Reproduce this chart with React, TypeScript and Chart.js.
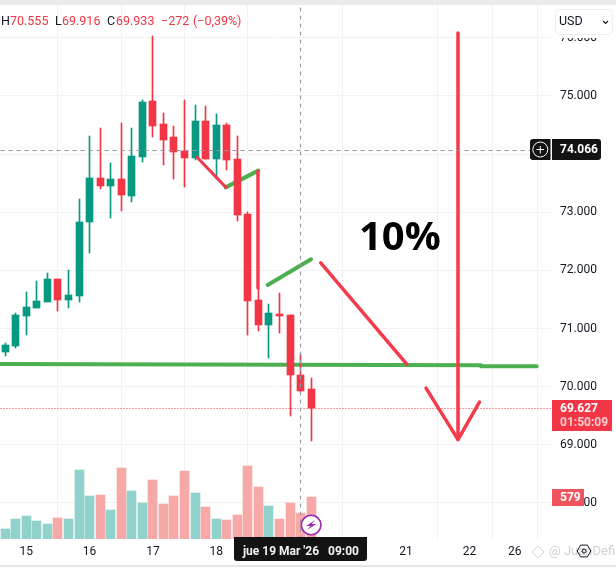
import React, { useEffect, useRef } from "react";
import { Chart, registerables } from "chart.js";

Chart.register(...registerables);

const FONT = "Roboto, 'Noto Sans', sans-serif";
const UP = "#089981";
const DOWN = "#f23645";
const INK = "#131722";

// candle index (four-hour bars, six per day; 0 = day 15)
const candleIndex = [-2,-1,0,1,2,3,4,5,6,7,8,9,10,11,12,13,14,15,16,17,18,19,20,21,22,23,24,25,26,27];
const opens = [70.591,70.695,71.212,71.350,71.454,71.851,71.488,71.557,72.834,73.594,73.456,73.576,73.283,73.956,74.905,74.508,74.284,74.060,73.939,74.560,73.921,74.491,73.921,72.972,71.488,71.057,71.247,71.230,70.205,69.952];
const highs = [70.746,71.264,71.626,71.816,71.954,71.851,72.006,73.231,74.318,74.439,73.852,74.525,74.439,74.922,76.027,74.698,74.474,74.922,74.836,74.819,74.681,74.525,74.318,73.007,71.695,71.419,71.609,71.230,70.555,70.143];
const lows = [70.522,70.660,70.884,71.350,71.454,71.299,71.350,71.454,72.299,73.404,72.903,73.024,73.179,73.870,74.301,73.818,73.576,73.438,73.904,73.921,73.576,73.732,72.852,70.884,70.953,70.487,70.919,69.504,69.916,69.073];
const closes = [70.712,71.230,71.368,71.471,71.851,71.488,71.575,72.834,73.594,73.456,73.576,73.300,73.973,74.888,74.474,74.249,74.042,73.939,74.560,73.921,74.491,73.904,72.955,71.471,71.057,71.264,71.212,70.194,69.933,69.627];
const volumes = [134,273,315,245,204,287,273,954,593,607,398,982,662,495,815,482,593,940,634,440,273,259,329,1009,718,454,273,495,357,579];

const priceTicks = [68,69,70,71,72,73,74,75,76];
const dayTickIndex = [0,6,12,18,24,36,42,46.3];
const dayTickLabels = ["15","16","17","18","","21","22","26"];

// hand-drawn strokes as [candle index, price]
const greenSupport = [[-2.49,70.389],[43.10,70.367],[43.10,70.349],[48.38,70.349]];
const greenBounceOne = [[18.90,73.426],[21.99,73.714]];
const greenBounceTwo = [[22.88,71.747],[26.99,72.191]];
const redDropOne = [[16.18,73.944],[18.93,73.426]];
const redDropTwo = [[21.96,73.702],[21.96,71.695]];
const redDropThree = [[27.91,72.127],[36.06,70.389]];
const redArrowShaft = [[40.92,76.079],[40.92,69.090]];
const redArrowHead = [[37.89,69.975],[40.92,69.090],[42.95,69.735]];

const lastPrice = 69.627;
const crosshairPrice = 74.066;
const crosshairIndex = 26;
const lastVolume = 579;
const annotationLabel = "10%";
const headerParts = [
  ["H", 1, INK],["70.555", 10, DOWN],["L", 55, INK],["69.916", 62, DOWN],
  ["C", 107, INK],["69.933", 116, DOWN],["−272", 161, DOWN],["(−0,39%)", 193, DOWN],
];
const dateLabel = "jue 19 Mar '26";
const timeLabel = "09:00";
const countdown = "01:50:09";
const currency = "USD";
const watermark = "@ JuanDefi";

const X_MIN = -2.493, X_MAX = 49.735, Y_MIN = 67.381, Y_MAX = 76.562, VOL_MAX = 7395;

const pts = (a: number[][]) => a.map(([x, y]) => ({ x, y }));
const stroke = (a: number[][], color: string, width: number, order: number) => ({
  type: "line" as const, data: pts(a), borderColor: color, borderWidth: width,
  pointRadius: 0, tension: 0, order, borderCapStyle: "round" as const, borderJoinStyle: "round" as const,
});
const dashed = (a: number[][], color: string, dash: number[], order: number) => ({
  type: "line" as const, data: pts(a), borderColor: color, borderWidth: 1,
  borderDash: dash, pointRadius: 0, tension: 0, order,
});
const dirColor = (i: number, up: string, down: string) => (closes[i] >= opens[i] ? up : down);

const snapBars = {
  id: "snapBars",
  afterDatasetsUpdate(chart: any) {
    chart.data.datasets.forEach((ds: any, d: number) => {
      const meta = chart.getDatasetMeta(d);
      if (meta.type === "line" && ds.borderWidth === 1) {
        meta.data.forEach((el: any) => {
          el.x = Math.floor(el.x) + 0.5;
          el.y = Math.floor(el.y) + 0.5;
        });
      }
      if (meta.type !== "bar") return;
      meta.data.forEach((el: any) => {
        el.x = Math.floor(el.x) + 0.5;
        el.y = Math.round(el.y);
        el.base = Math.round(el.base);
        if (Math.abs(el.y - el.base) < 1) el.base = el.y + 1;
      });
    });
  },
};

const background = {
  id: "background",
  beforeDraw(chart: any) {
    const c = chart.ctx;
    c.save();
    c.fillStyle = "#fff";
    c.fillRect(0, 0, chart.width, chart.height);
    c.restore();
  },
};

function box(c: any, x: number, y: number, w: number, h: number, r: any, fill: string) {
  c.beginPath();
  c.roundRect(x, y, w, h, r);
  c.fillStyle = fill;
  c.fill();
}
function label(c: any, s: string, x: number, y: number, font: string, color: string, align = "left") {
  c.font = font;
  c.fillStyle = color;
  c.textAlign = align;
  c.textBaseline = "middle";
  c.fillText(s, x, y);
}

const overlay = {
  id: "overlay",
  afterDraw(chart: any) {
    const c = chart.ctx;
    const yS = chart.scales.y, xS = chart.scales.x, vS = chart.scales.vol;
    c.save();

    // window strips
    c.fillStyle = "#ebebeb";
    c.fillRect(0, 0, 616, 5);
    c.fillStyle = "#e6e6e6";
    c.fillRect(0, 565, 616, 2);

    // legend line
    headerParts.forEach(([s, x, col]) => label(c, s as string, x as number, 22, `12.5px ${FONT}`, col as string));

    // annotation text
    c.font = `bold 40px 'Open Sans', sans-serif`;
    c.fillStyle = "#000";
    c.textAlign = "left";
    c.textBaseline = "alphabetic";
    c.fillText(annotationLabel, 359, 250);

    // currency selector, with its soft white margin hiding most of the top tick label
    c.fillStyle = "#fff";
    c.fillRect(553, 30, 62, 8);
    c.beginPath();
    c.roundRect(555.5, 9.5, 57, 25, 4);
    c.fillStyle = "#fff";
    c.fill();
    c.strokeStyle = "#eeeeee";
    c.lineWidth = 1;
    c.stroke();
    label(c, currency, 559, 22, `12.5px ${FONT}`, INK);
    c.beginPath();
    c.moveTo(603, 21);
    c.lineTo(605.5, 23.5);
    c.lineTo(608, 21);
    c.strokeStyle = INK;
    c.lineWidth = 1.2;
    c.stroke();

    // crosshair price tag
    const yc = Math.round(yS.getPixelForValue(crosshairPrice));
    box(c, 530, yc - 11, 20.5, 21, [3, 0, 0, 3], "#131313");
    box(c, 552, yc - 11, 49, 21, [0, 3, 3, 0], "#131313");
    c.beginPath();
    c.arc(540.3, yc - 0.5, 7.5, 0, Math.PI * 2);
    c.strokeStyle = "#fff";
    c.lineWidth = 1;
    c.stroke();
    c.beginPath();
    c.moveTo(536.5, yc - 0.5);
    c.lineTo(544, yc - 0.5);
    c.moveTo(540.3, yc - 4);
    c.lineTo(540.3, yc + 3.5);
    c.stroke();
    label(c, crosshairPrice.toFixed(3), 560, yc, `bold 12px ${FONT}`, "#fff");

    // last price tag
    const yl = Math.round(yS.getPixelForValue(lastPrice));
    c.fillStyle = DOWN;
    c.fillRect(552, yl - 8, 60, 31);
    label(c, lastPrice.toFixed(3), 560, yl + 0.5, `bold 12px ${FONT}`, "#fff");
    label(c, countdown, 560, yl + 14.5, `bold 12px ${FONT}`, "rgba(255,255,255,0.75)");

    // volume tag
    const yv = Math.round(vS.getPixelForValue(lastVolume));
    c.fillStyle = "#f0555f";
    c.fillRect(552, yv - 8, 32, 17);
    label(c, String(lastVolume), 560, yv + 0.5, `bold 12px ${FONT}`, "#fff");

    // lightning badge
    const bx = xS.getPixelForValue(27), by = 525;
    c.beginPath();
    c.arc(bx, by, 9.8, 0, Math.PI * 2);
    c.fillStyle = "#fff";
    c.fill();
    c.strokeStyle = "#9c27b0";
    c.lineWidth = 1.6;
    c.stroke();
    c.beginPath();
    c.moveTo(bx + 4, by - 5);
    c.lineTo(bx - 5, by + 1);
    c.lineTo(bx - 0.5, by + 1);
    c.lineTo(bx - 4, by + 5);
    c.lineTo(bx + 5, by - 1);
    c.lineTo(bx + 0.5, by - 1);
    c.closePath();
    c.fillStyle = "#9c27b0";
    c.fill();

    // date tag on the time axis
    box(c, 234, 537, 133, 24, [0, 0, 3, 3], "#131313");
    label(c, dateLabel, 243, 551.5, `bold 12px ${FONT}`, "#f2f2f2");
    label(c, timeLabel, 328, 551.5, `bold 12px ${FONT}`, "#f2f2f2");

    // watermark and hexagon
    label(c, watermark, 549, 552, `13px ${FONT}`, "#d2d2d2");
    c.strokeStyle = "#d8d8d8";
    c.lineWidth = 1;
    c.beginPath();
    c.moveTo(538, 546);
    c.lineTo(544, 552);
    c.lineTo(538, 558);
    c.lineTo(532, 552);
    c.closePath();
    c.stroke();
    c.strokeStyle = "#131722";
    c.beginPath();
    for (let k = 0; k < 6; k++) {
      const a = Math.PI / 3 * k;
      const px = 584 + 6.8 * Math.cos(a), py = 551 + 6.8 * Math.sin(a);
      if (k === 0) c.moveTo(px, py); else c.lineTo(px, py);
    }
    c.closePath();
    c.stroke();
    c.beginPath();
    c.arc(584, 551, 2, 0, Math.PI * 2);
    c.stroke();
    c.restore();
  },
};

export default function App() {
  const ref = useRef<HTMLCanvasElement>(null);
  useEffect(() => {
    document.body.style.margin = "0";
    const chart = new Chart(ref.current as HTMLCanvasElement, {
      type: "bar",
      data: {
        datasets: [
          stroke(redDropOne, "#ee3a4c", 3, 1),
          stroke(redDropTwo, "#f43a4b", 3.5, 1),
          stroke(redDropThree, "#f43a4b", 3.5, 1),
          stroke(redArrowShaft, "#f43a4b", 3.5, 1),
          stroke(redArrowHead, "#f43a4b", 3.5, 1),
          dashed([[X_MIN, crosshairPrice],[X_MAX, crosshairPrice]], "#9598a1", [4, 4], 0),
          dashed([[crosshairIndex, Y_MIN],[crosshairIndex, Y_MAX]], "#9598a1", [4, 4], 0),
          {
            label: "body", grouped: false, barThickness: 7, order: 2, yAxisID: "y",
            data: candleIndex.map((x, i) => ({ x, y: [opens[i], closes[i]] })),
            backgroundColor: candleIndex.map((_, i) => dirColor(i, UP, DOWN)),
          },
          {
            label: "wick", grouped: false, barThickness: 1, order: 3, yAxisID: "y",
            data: candleIndex.map((x, i) => ({ x, y: [lows[i], highs[i]] })),
            backgroundColor: candleIndex.map((_, i) => dirColor(i, UP, DOWN)),
          },
          stroke(greenSupport, "#4caf50", 4, 4),
          stroke(greenBounceOne, "#4caf50", 4, 4),
          stroke(greenBounceTwo, "#4caf50", 4, 4),
          dashed([[X_MIN, lastPrice],[X_MAX, lastPrice]], DOWN, [1, 2], 5),
          {
            label: "volume", grouped: false, barThickness: 9, order: 6, yAxisID: "vol",
            data: candleIndex.map((x, i) => ({ x, y: volumes[i] })),
            backgroundColor: candleIndex.map((_, i) => dirColor(i, "#92d2cc", "#f7a9a7")),
          },
        ] as any,
      },
      options: {
        animation: false,
        responsive: false,
        devicePixelRatio: 1,
        events: [],
        layout: { padding: { top: 5, left: 0, right: 0, bottom: 0 } },
        plugins: { legend: { display: false }, tooltip: { enabled: false } },
        scales: {
          x: {
            type: "linear", min: X_MIN, max: X_MAX, offset: false,
            grid: { color: "#f2f2f2", drawTicks: false, tickLength: 0 },
            border: { display: false },
            afterBuildTicks: (a: any) => { a.ticks = dayTickIndex.map((value) => ({ value })); },
            afterFit: (a: any) => { a.height = 29; a.paddingLeft = 0; a.paddingRight = 0; },
            ticks: {
              autoSkip: false, maxRotation: 0, padding: 6,
              color: INK, font: { family: FONT, size: 12 },
              callback: (v: any) => dayTickLabels[dayTickIndex.indexOf(Number(v))] ?? "",
            },
          },
          y: {
            type: "linear", position: "right", min: Y_MIN, max: Y_MAX,
            grid: { color: "#f2f2f2", drawTicks: false, tickLength: 0 },
            border: { display: false },
            afterBuildTicks: (a: any) => { a.ticks = priceTicks.map((value) => ({ value })); },
            afterFit: (a: any) => { a.width = 65; a.paddingTop = 0; a.paddingBottom = 0; },
            ticks: {
              autoSkip: false, padding: 9, color: INK, font: { family: FONT, size: 12 },
              callback: (v: any) => Number(v).toFixed(3),
            },
          },
          vol: {
            type: "linear", display: false, min: 0, max: VOL_MAX,
            afterFit: (a: any) => { a.paddingTop = 0; a.paddingBottom = 0; },
          },
        },
      } as any,
      plugins: [background, snapBars, overlay],
    } as any);
    return () => chart.destroy();
  }, []);
  return <canvas ref={ref} width={616} height={568} style={{ display: "block" }} />;
}
